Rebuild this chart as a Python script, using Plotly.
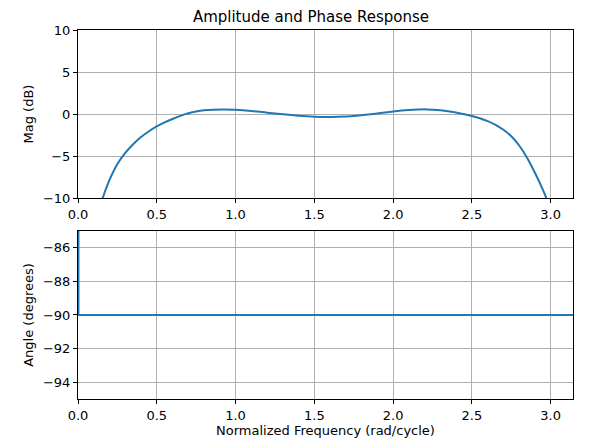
import math

import plotly.graph_objects as go
from plotly.subplots import make_subplots

# magnitude response (rad/sample, dB)
freq_mag = [0.12, 0.157, 0.20, 0.25, 0.30, 0.35, 0.40, 0.45, 0.50, 0.55, 0.60,
            0.65, 0.70, 0.75, 0.80, 0.86, 0.92, 1.0, 1.10, 1.20, 1.30, 1.40, 1.50,
            1.57, 1.65, 1.77, 1.90, 2.0, 2.10, 2.21, 2.30, 2.36, 2.42, 2.50, 2.55,
            2.60, 2.65, 2.70, 2.75, 2.80, 2.85, 2.90, 2.95, 3.0]
mag_db = [-12.5, -10.0, -7.85, -5.95, -4.62, -3.6, -2.75, -2.05, -1.47, -1.0, -0.59,
          -0.22, 0.08, 0.3, 0.44, 0.52, 0.55, 0.5, 0.36, 0.16, -0.04, -0.21, -0.33,
          -0.37, -0.34, -0.2, 0.06, 0.3, 0.47, 0.55, 0.45, 0.3, 0.1, -0.24, -0.5,
          -0.84, -1.29, -1.88, -2.65, -3.75, -5.2, -7.0, -9.0, -11.3]

# phase response
freq_phase = [0.0, 0.003, math.pi]
phase_deg = [0.0, -90.0, -90.0]

x_ticks = [0.0, 0.5, 1.0, 1.5, 2.0, 2.5, 3.0]

blue = "#1f77b4"
font = dict(family="DejaVu Sans", size=13, color="black")

fig = make_subplots(rows=2, cols=1, vertical_spacing=0.0894)

fig.add_trace(go.Scatter(x=freq_mag, y=mag_db, mode="lines",
                         line=dict(color=blue, width=2, shape="spline", smoothing=1.0)),
              row=1, col=1)
fig.add_trace(go.Scatter(x=freq_phase, y=phase_deg, mode="lines",
                         line=dict(color=blue, width=2)), row=2, col=1)

axis_style = dict(showline=True, linecolor="black", linewidth=1, mirror=True,
                  ticks="outside", ticklen=4, tickcolor="black",
                  showgrid=True, gridcolor="#b0b0b0", gridwidth=1, zeroline=False,
                  tickfont=font)

fig.update_xaxes(range=[0, math.pi], tickvals=x_ticks, tickformat=".1f", **axis_style)
fig.update_xaxes(title=dict(text="Normalized Frequency (rad/cycle)", font=font, standoff=2),
                 row=2, col=1)
fig.update_yaxes(**axis_style)
fig.update_yaxes(range=[-10, 10], dtick=5, title=dict(text="Mag (dB)", font=font, standoff=6),
                 row=1, col=1)
fig.update_yaxes(range=[-95, -85], tickvals=[-94, -92, -90, -88, -86],
                 title=dict(text="Angle (degrees)", font=font, standoff=6), row=2, col=1)

# the page body has an 8px margin, so the figure is shrunk by that much
fig.update_layout(
    width=583, height=438,
    margin=dict(l=70, r=18, t=22, b=39),
    paper_bgcolor="white", plot_bgcolor="white",
    showlegend=False,
    title=dict(text="Amplitude and Phase Response", x=303 / 583, xanchor="center",
               y=1 - 3 / 438, yanchor="top", pad=dict(t=0, b=0),
               font=dict(family="DejaVu Sans", size=15, color="black")),
)

fig.write_html("out.html")
